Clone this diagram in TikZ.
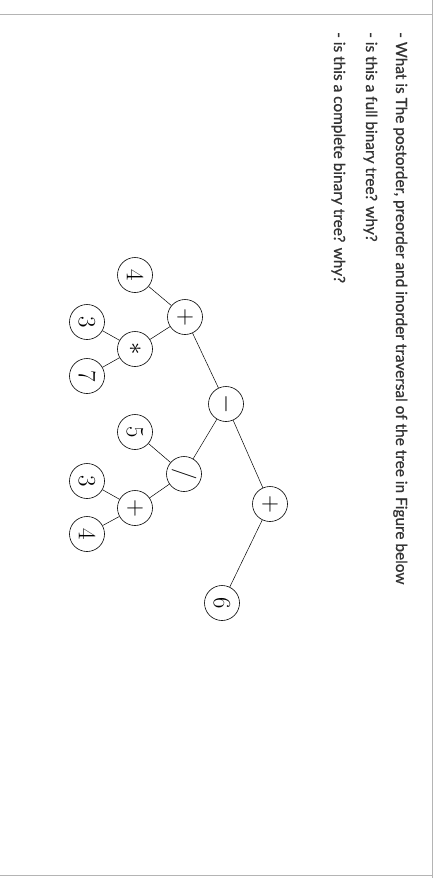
\documentclass[tikz,border=0pt]{standalone}
\usepackage{fontspec}
\newfontfamily\qfont[FakeBold=0.8]{Lato}
\usetikzlibrary{positioning}
\definecolor{qtext}{HTML}{333333}
\definecolor{pagerule}{HTML}{B4B4B4}

\begin{document}
\begin{tikzpicture}[x=1pt, y=-1pt,
  op/.style={circle, draw=black, line width=0.6pt, minimum size=35pt,
    inner sep=0pt, rotate=-90, font=\fontsize{26}{28}\selectfont},
  edge/.style={draw=black, line width=0.5pt},
  qline/.style={anchor=base west, rotate=-90, inner sep=0pt, text=qtext,
    font=\qfont\fontsize{15.4}{18}\selectfont},
]
\useasboundingbox (0,0) rectangle (433,878);

% Page rules
\draw[pagerule, line width=1pt] (0,14) -- (432,14);
\draw[pagerule, line width=1pt] (432,0) -- (432,878);
\draw[pagerule, line width=1pt] (0,875) -- (432,875);

% Questions
\node[qline] (q1) at (396,32) {- What is The postorder, preorder and inorder traversal of the tree in Figure below};
\node[qline] (q2) at (366,32) {- is this a full binary tree? why?};
\node[qline] (q3) at (334,32) {- is this a complete binary tree? why?};

% Expression tree
\node[op] (top) at (270,504) {$+$};
\node[op] (minus) at (226,404) {$-$};
\node[op] (six) at (222,603) {$6$};
\node[op] (plusA) at (185,317) {$+$};
\node[op] (div) at (184,474) {$/$};
\node[op] (four) at (135,275) {$4$};
\node[op] (times) at (135,349) {$*$};
\node[op] (five) at (135,432) {$5$};
\node[op] (plusB) at (135,508) {$+$};
\node[op] (threeA) at (87,322) {$3$};
\node[op] (seven) at (87,376) {$7$};
\node[op] (threeB) at (87,481) {$3$};
\node[op] (fourB) at (87,534) {$4$};

\draw[edge] (top) -- (minus);
\draw[edge] (top) -- (six);
\draw[edge] (minus) -- (plusA);
\draw[edge] (minus) -- (div);
\draw[edge] (plusA) -- (four);
\draw[edge] (plusA) -- (times);
\draw[edge] (times) -- (threeA);
\draw[edge] (times) -- (seven);
\draw[edge] (div) -- (five);
\draw[edge] (div) -- (plusB);
\draw[edge] (plusB) -- (threeB);
\draw[edge] (plusB) -- (fourB);
\end{tikzpicture}
\end{document}
